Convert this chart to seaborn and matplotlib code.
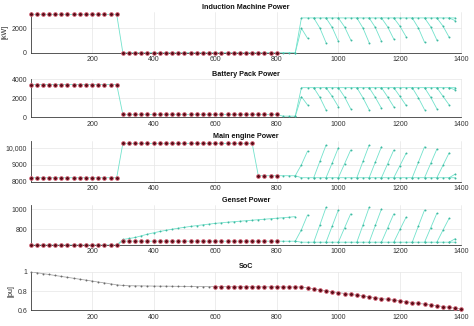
import matplotlib
matplotlib.use("Agg")
import matplotlib.pyplot as plt
import pandas as pd
import seaborn as sns

# ---- time grids -----------------------------------------------------------
t_hist = list(range(0, 820, 20))        # applied control steps
t_main = list(range(800, 1400, 20))     # latest prediction horizon
t_genset_curve = list(range(280, 880, 20))
t_soc_pred = list(range(0, 620, 20))
t_soc_hist = list(range(600, 1420, 20))

# start times of the intermediate prediction horizons
branch_t0 = [860, 920, 960, 1000, 1060, 1100, 1140, 1180, 1240, 1280, 1320, 1360]

# ---- Induction machine power [kW] -----------------------------------------
induction_hist = [3100, 3100, 3100, 3100, 3100, 3100, 3100, 3100, 3100, 3100,
                  3100, 3100, 3100, 3100, 3100, 0, 0, 0, 0, 0, 0, 0, 0, 0, 0,
                  0, 0, 0, 0, 0, 0, 0, 0, 0, 0, 0, 0, 0, 0, 0, 0]
induction_main = [0, 0, 0, 0, 2820, 2820, 2820, 2820, 2820, 2820, 2820, 2820,
                  2820, 2820, 2820, 2820, 2820, 2820, 2820, 2820, 2820, 2820,
                  2820, 2820, 2820, 2820, 2820, 2820, 2820, 2820]
induction_branches = [[0, 1975, 1166], [2820, 2000, 810], [2820, 2050, 923],
                      [2820, 2100, 1050], [2820, 2000, 810], [2820, 2050, 923],
                      [2820, 2100, 1100], [2820, 2150, 1296], [2820, 2000, 842],
                      [2820, 2100, 1028], [2820, 2150, 1247], [2820, 2591]]

# ---- Battery pack power -----------------------------------------------------
battery_hist = [3450, 3450, 3450, 3450, 3450, 3450, 3450, 3450, 3450, 3450,
                3450, 3450, 3450, 3450, 3450, 300, 300, 300, 300, 300, 300,
                300, 300, 300, 300, 300, 300, 300, 300, 300, 300, 300, 300,
                300, 300, 300, 300, 300, 300, 300, 300]
battery_main = [300, 120, 120, 120, 3120, 3120, 3120, 3120, 3120, 3120, 3120,
                3120, 3120, 3120, 3120, 3120, 3120, 3120, 3120, 3120, 3120,
                3120, 3120, 3120, 3120, 3120, 3120, 3120, 3120, 3120]
battery_branches = [[120, 2168, 1295], [3120, 2100, 768], [3120, 2200, 1116],
                    [3120, 2150, 900], [3120, 2050, 800], [3120, 2100, 950],
                    [3120, 2150, 1100], [3120, 2200, 1250], [3120, 2050, 800],
                    [3120, 2100, 900], [3120, 2200, 1300], [3120, 2874]]

# ---- Main engine power -------------------------------------------------------
engine_hist = [8235, 8235, 8235, 8235, 8235, 8235, 8235, 8235, 8235, 8235,
               8235, 8235, 8235, 8235, 8235, 10258, 10258, 10258, 10258,
               10258, 10258, 10258, 10258, 10258, 10258, 10258, 10258, 10258,
               10258, 10258, 10258, 10258, 10258, 10258, 10258, 10258, 10258,
               8353, 8353, 8353, 8353]
engine_main = [8353, 8353, 8353, 8353, 8235, 8235, 8235, 8235, 8235, 8235,
               8235, 8235, 8235, 8235, 8235, 8235, 8235, 8235, 8235, 8235,
               8235, 8235, 8235, 8235, 8235, 8235, 8235, 8235, 8235, 8235]
engine_branches = [[8353, 9000, 9806], [8235, 9200, 10159], [8235, 9100, 10000],
                   [8235, 9050, 9865], [8235, 9200, 10159], [8235, 9150, 10059],
                   [8235, 9050, 9865], [8235, 8950, 9670], [8235, 9150, 10059],
                   [8235, 9080, 9924], [8235, 8970, 9706], [8235, 8453]]

# ---- Genset power --------------------------------------------------------------
genset_hist = [640, 640, 640, 640, 640, 640, 640, 640, 640, 640, 640, 640, 640,
               640, 640, 678, 678, 678, 678, 678, 678, 678, 678, 678, 678, 678,
               678, 678, 678, 678, 678, 678, 678, 678, 678, 678, 678, 678, 678,
               678, 678]
genset_main = [678, 678, 678, 678, 668, 668, 668, 668, 668, 668, 668, 668, 668,
               668, 668, 668, 668, 668, 668, 668, 668, 668, 668, 668, 668, 668,
               668, 668, 668, 668]
genset_curve = [640, 695, 705, 715, 732, 748, 762, 775, 787, 798, 808, 817, 826,
                834, 842, 849, 856, 862, 868, 873, 878, 883, 888, 893, 898, 903,
                908, 913, 918, 924]
genset_branches = [[678, 793, 941], [668, 840, 1016], [668, 830, 990],
                   [668, 810, 951], [668, 840, 1016], [668, 835, 1000],
                   [668, 810, 951], [668, 795, 918], [668, 830, 990],
                   [668, 812, 957], [668, 790, 908], [668, 704]]

# ---- State of charge [pu] ----------------------------------------------------
soc_pred = [1.000, 0.990, 0.980, 0.971, 0.961, 0.951, 0.942, 0.932, 0.922,
            0.913, 0.903, 0.893, 0.884, 0.874, 0.864, 0.857, 0.855, 0.854,
            0.853, 0.852, 0.851, 0.850, 0.850, 0.849, 0.848, 0.848, 0.847,
            0.846, 0.846, 0.845, 0.845]
soc_hist = [0.845, 0.845, 0.845, 0.844, 0.844, 0.844, 0.844, 0.843, 0.843,
            0.843, 0.843, 0.842, 0.842, 0.842, 0.841, 0.832, 0.822, 0.812,
            0.802, 0.792, 0.783, 0.774, 0.765, 0.757, 0.748, 0.740, 0.731,
            0.722, 0.714, 0.705, 0.697, 0.689, 0.680, 0.672, 0.664, 0.655,
            0.647, 0.639, 0.630, 0.622, 0.613]

x_ticks = [200, 400, 600, 800, 1000, 1200, 1400]

# ---- styling ------------------------------------------------------------------
sns.set_theme(style="white")
plt.rcParams["font.family"] = ["Liberation Sans", "DejaVu Sans"]

PRED = "#72e2cc"
PRED_DOT = "#3fb9a0"
RED_FACE = "#5a0c18"
RED_EDGE = "#d9687a"
GREY = "#a8a8a8"
GREY_DOT = "#6a6a6a"
AX = "#3a3a3a"

fig = plt.figure(figsize=(4.74, 3.26), dpi=100)
H = 326.0
W = 474.0
left = 30.5 / W
width = (461.5 - 30.5) / W
# (top_px, bottom_px) of each panel
rows = [(12.0, 52.7), (79.3, 117.3), (141.0, 181.7), (205.0, 245.0), (271.7, 310.3)]
axes = [fig.add_axes([left, 1 - b / H, width, (b - t) / H]) for t, b in rows]


def pred_line(ax, t, v, color=PRED, dot=PRED_DOT, lw=0.6, ms=1.4):
    df = pd.DataFrame({"t": t, "v": v})
    sns.lineplot(data=df, x="t", y="v", ax=ax, color=color, linewidth=lw,
                 estimator=None, sort=False, legend=False, zorder=2)
    sns.scatterplot(data=df, x="t", y="v", ax=ax, color=dot, s=ms ** 2,
                    linewidth=0, legend=False, zorder=3)


def applied_points(ax, t, v):
    df = pd.DataFrame({"t": t, "v": v})
    sns.scatterplot(data=df, x="t", y="v", ax=ax, s=7.5, marker="o",
                    facecolor=RED_FACE, edgecolor=RED_EDGE, linewidth=0.55,
                    legend=False, zorder=4)
    for c in ax.collections:
        c.set_clip_on(False)


def branches(ax, starts, vals):
    for t0, v in zip(starts, vals):
        ts = [t0 + 20 * k for k in range(len(v))]
        pred_line(ax, ts, v)


def style(ax, title, ylim, yticks, ylabels, ylabel=None):
    ax.set_xlim(0, 1400)
    ax.set_ylim(*ylim)
    ax.set_xticks(x_ticks)
    ax.set_xticklabels([str(x) for x in x_ticks])
    ax.set_yticks(yticks)
    ax.set_yticklabels(ylabels)
    ax.set_xlabel("")
    ax.set_ylabel(ylabel if ylabel else "", fontsize=5, color="#222222", labelpad=2)
    ax.set_title(title, fontsize=5.2, fontweight="bold", pad=2.5, color="#111111")
    ax.grid(True, color="#e6e6e6", linewidth=0.5, zorder=0)
    ax.set_axisbelow(True)
    for s in ("top", "right"):
        ax.spines[s].set_visible(False)
    for s in ("left", "bottom"):
        ax.spines[s].set_color(AX)
        ax.spines[s].set_linewidth(0.6)
    ax.tick_params(direction="in", length=2.5, width=0.5, color=AX,
                   labelsize=5, labelcolor="#333333", pad=2.5)
    ax.set_facecolor("white")


# Induction machine
ax = axes[0]
pred_line(ax, t_hist, induction_hist)
pred_line(ax, t_main, induction_main)
branches(ax, branch_t0, induction_branches)
applied_points(ax, t_hist, induction_hist)
style(ax, "Induction Machine Power", (0, 3300), [0, 2000], ["0", "2000"], "[kW]")

# Battery pack
ax = axes[1]
pred_line(ax, t_hist, battery_hist)
pred_line(ax, t_main, battery_main)
branches(ax, branch_t0, battery_branches)
applied_points(ax, t_hist, battery_hist)
style(ax, "Battery Pack Power", (0, 4000), [0, 2000, 4000], ["0", "2000", "4000"])

# Main engine
ax = axes[2]
pred_line(ax, t_hist, engine_hist)
pred_line(ax, t_main, engine_main)
branches(ax, branch_t0, engine_branches)
applied_points(ax, t_hist, engine_hist)
style(ax, "Main engine Power", (8000, 10400), [8000, 9000, 10000],
      ["8000", "9000", "10,000"])

# Genset
ax = axes[3]
pred_line(ax, t_hist, genset_hist)
pred_line(ax, t_genset_curve, genset_curve)
pred_line(ax, t_main, genset_main)
branches(ax, branch_t0, genset_branches)
applied_points(ax, t_hist, genset_hist)
style(ax, "Genset Power", (640, 1040), [800, 1000], ["800", "1000"])

# State of charge
ax = axes[4]
pred_line(ax, t_soc_pred, soc_pred, color=GREY, dot=GREY_DOT)
pred_line(ax, t_soc_hist, soc_hist, color=GREY, dot=GREY_DOT)
applied_points(ax, t_soc_hist, soc_hist)
style(ax, "SoC", (0.6, 1.0), [0.6, 0.8, 1.0], ["0.6", "0.8", "1"], "[pu]")

fig.savefig("out.png", dpi=100, facecolor="white")
